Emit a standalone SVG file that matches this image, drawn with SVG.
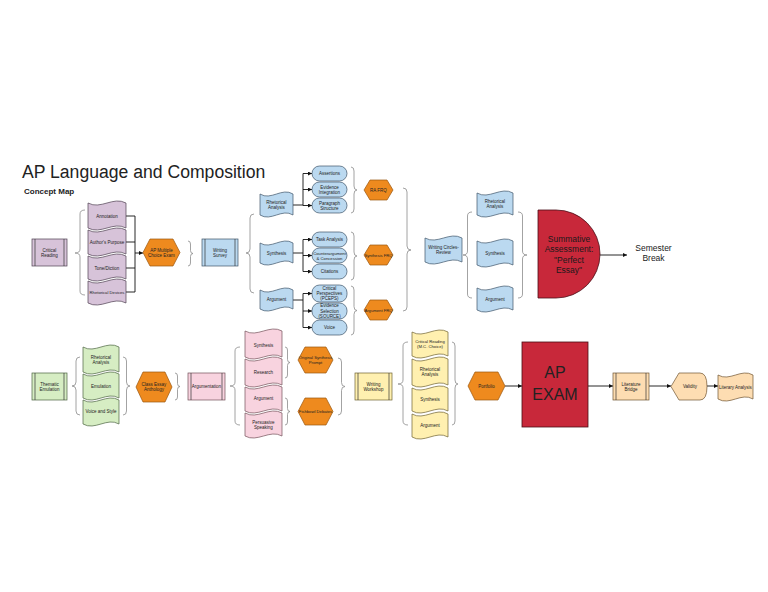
<svg xmlns="http://www.w3.org/2000/svg" width="768" height="592" viewBox="0 0 768 592">
<defs>
<marker id="ah" viewBox="0 0 10 10" refX="10" refY="5" markerWidth="4" markerHeight="4" markerUnits="userSpaceOnUse" orient="auto"><path d="M0,0 L10,5 L0,10 Z" fill="#111"/></marker>
<style>
.pur{fill:#D7C3D9;stroke:#4e3f50;stroke-width:0.7}
.blu{fill:#BBD9F0;stroke:#3f5568;stroke-width:0.7}
.org{fill:#EE8A1E;stroke:#9a560e;stroke-width:0.7}
.grn{fill:#D6EDC3;stroke:#4a6340;stroke-width:0.7}
.pnk{fill:#F8D3DF;stroke:#735059;stroke-width:0.7}
.yel{fill:#FFF0B0;stroke:#6e6230;stroke-width:0.7}
.pch{fill:#FDDDB2;stroke:#6e5330;stroke-width:0.7}
.red{fill:#C8283A;stroke:#4a0e16;stroke-width:0.8}
.ln{fill:none;stroke:#333;stroke-width:0.7}
.br{fill:none;stroke:#8c8c8c;stroke-width:0.8}
.cn{fill:none;stroke:#111;stroke-width:0.9}
.ar{fill:none;stroke:#111;stroke-width:0.9;marker-end:url(#ah)}
text{font-family:"Liberation Sans",Arial,sans-serif;fill:#222}
.t{font-size:4.5px;text-anchor:middle}
.s{font-size:4.2px;text-anchor:middle}
.m{font-size:8.5px;text-anchor:middle;fill:#1a1a1a}
</style>
</defs>
<rect width="768" height="592" fill="#fff"/>
<text x="22" y="178" font-size="17.6" fill="#111">AP Language and Composition</text>
<text x="24" y="194" font-size="8" font-weight="bold" fill="#111">Concept Map</text>

<g id="braces">
<path class="br" d="M85,210 Q80,210 80,214 L80,249 Q80,253 75,253 Q80,253 80,257 L80,291 Q80,295 85,295"/>
<path class="br" d="M188,241 Q190.5,241 190.5,244 L190.5,250.5 Q190.5,253.5 193,253.5 Q190.5,253.5 190.5,256.5 L190.5,263 Q190.5,266 188,266"/>
<path class="br" d="M254,214 Q250,214 250,218 L250,249 Q250,253 246,253 Q250,253 250,257 L250,289 Q250,293 254,293"/>
<path class="br" d="M351,167 Q354,167 354,171 L354,186 Q354,190 357,190 Q354,190 354,194 L354,209 Q354,213 351,213"/>
<path class="br" d="M351,232 Q354,232 354,236 L354,252 Q354,256 357,256 Q354,256 354,260 L354,276 Q354,280 351,280"/>
<path class="br" d="M351,286 Q354,286 354,290 L354,306.5 Q354,310.5 357,310.5 Q354,310.5 354,314.5 L354,331 Q354,335 351,335"/>
<path class="br" d="M403,188 Q407,188 407,192 L407,246 Q407,250 411,250 Q407,250 407,254 L407,307 Q407,311 403,311"/>
<path class="br" d="M472,212 Q467.5,212 467.5,216 L467.5,251 Q467.5,255 463,255 Q467.5,255 467.5,259 L467.5,294 Q467.5,298 472,298"/>
<path class="br" d="M518,212 Q522.5,212 522.5,216 L522.5,251 Q522.5,255 527,255 Q522.5,255 522.5,259 L522.5,294 Q522.5,298 518,298"/>
<path class="br" d="M80,357 Q76,357 76,361 L76,382 Q76,386 72,386 Q76,386 76,390 L76,411 Q76,415 80,415"/>
<path class="br" d="M123,357 Q126.5,357 126.5,361 L126.5,382 Q126.5,386 130,386 Q126.5,386 126.5,390 L126.5,411 Q126.5,415 123,415"/>
<path class="br" d="M175,373 Q177.5,373 177.5,376 L177.5,383.5 Q177.5,386.5 180,386.5 Q177.5,386.5 177.5,389.5 L177.5,397 Q177.5,400 175,400"/>
<path class="br" d="M240,347 Q235,347 235,351 L235,382 Q235,386 230,386 Q235,386 235,390 L235,421 Q235,425 240,425"/>
<path class="br" d="M285,347 Q287.5,347 287.5,350 L287.5,359.5 Q287.5,362.5 290,362.5 Q287.5,362.5 287.5,365.5 L287.5,375 Q287.5,378 285,378"/>
<path class="br" d="M285,398 Q287.5,398 287.5,401 L287.5,408.5 Q287.5,411.5 290,411.5 Q287.5,411.5 287.5,414.5 L287.5,422 Q287.5,425 285,425"/>
<path class="br" d="M338,358 Q341.5,358 341.5,362 L341.5,382.5 Q341.5,386.5 345,386.5 Q341.5,386.5 341.5,390.5 L341.5,411 Q341.5,415 338,415"/>
<path class="br" d="M408,342 Q403,342 403,346 L403,380 Q403,384 398,384 Q403,384 403,388 L403,421 Q403,425 408,425"/>
<path class="br" d="M452,342 Q455,342 455,346 L455,380 Q455,384 458,384 Q455,384 455,388 L455,421 Q455,425 452,425"/>
</g>

<g id="connectors">
<path class="cn" d="M126,216 H135 M126,242 H135 M126,268 H135 M126,292 H135 M135,216 V292"/>
<path class="ar" d="M135,253 H143"/>
<path class="cn" d="M293,205 H303 M303,173.5 V205.5"/>
<path class="ar" d="M303,173.5 H312"/><path class="ar" d="M303,189.5 H312"/><path class="ar" d="M303,205.5 H312"/>
<path class="cn" d="M293,253 H303 M303,239.5 V271.5"/>
<path class="ar" d="M303,239.5 H312"/><path class="ar" d="M303,255.5 H312"/><path class="ar" d="M303,271.5 H312"/>
<path class="cn" d="M293,300 H303 M303,293.5 V327.5"/>
<path class="ar" d="M303,293.5 H312"/><path class="ar" d="M303,311 H312"/><path class="ar" d="M303,327.5 H312"/>
<path class="ar" d="M600,255 H627"/>
<path class="ar" d="M505,386 H522"/>
<path class="ar" d="M588,386 H613"/>
<path class="ar" d="M649,386 H671"/>
<path class="ar" d="M707,386 H718"/>
</g>

<!-- Row 1 -->
<g id="critical-reading"><rect class="pur" x="32" y="239" width="35" height="27"/><path class="ln" d="M35,239 V266 M64,239 V266"/><text class="t" x="49.5" y="251.5">Critical</text><text class="t" x="49.5" y="256.7">Reading</text></g>
<g id="annotation"><path class="pur" d="M88,203 C100.7,210 113.3,196 126,203 L126,228 C113.3,221 100.7,235 88,228 Z"/><text class="t" x="107" y="217.6">Annotation</text></g>
<g id="authors-purpose"><path class="pur" d="M88,230 C100.7,237 113.3,223 126,230 L126,254 C113.3,247 100.7,261 88,254 Z"/><text class="t" x="107" y="243.6">Author's Purpose</text></g>
<g id="tone-diction"><path class="pur" d="M88,256 C100.7,263 113.3,249 126,256 L126,279 C113.3,272 100.7,286 88,279 Z"/><text class="t" x="107" y="269.6">Tone/Diction</text></g>
<g id="rhetorical-devices"><path class="pur" d="M88,281 C100.7,288 113.3,274 126,281 L126,303 C113.3,296 100.7,310 88,303 Z"/><text class="s" x="107" y="293.6">Rhetorical Devices</text></g>
<g id="ap-mc-exam"><polygon class="org" points="150,239 173,239 180,252.5 173,266 150,266 143,252.5"/><text class="t" x="161.5" y="251.5">AP Multiple</text><text class="t" x="161.5" y="256.7">Choice Exam</text></g>
<g id="writing-survey"><rect class="blu" x="202" y="239" width="36" height="27"/><path class="ln" d="M205,239 V266 M235,239 V266"/><text class="t" x="220" y="251.5">Writing</text><text class="t" x="220" y="256.7">Survey</text></g>

<g id="rhetorical-analysis-1"><path class="blu" d="M260,194 C271,201 282,187 293,194 L293,215 C282,208 271,222 260,215 Z"/><text class="t" x="276.5" y="203.5">Rhetorical</text><text class="t" x="276.5" y="208.7">Analysis</text></g>
<g id="synthesis-1"><path class="blu" d="M260,243 C271,250 282,236 293,243 L293,263 C282,256 271,270 260,263 Z"/><text class="t" x="276.5" y="254.6">Synthesis</text></g>
<g id="argument-1"><path class="blu" d="M260,290 C271,297 282,283 293,290 L293,309 C282,302 271,316 260,309 Z"/><text class="t" x="276.5" y="301.1">Argument</text></g>

<g id="assertions"><rect class="blu" x="312" y="166" width="35" height="15" rx="7.5"/><text class="t" x="329.5" y="175.1">Assertions</text></g>
<g id="evidence-integration"><rect class="blu" x="312" y="182" width="35" height="15" rx="7.5"/><text class="t" x="329.5" y="188.5">Evidence</text><text class="t" x="329.5" y="193.7">Integration</text></g>
<g id="paragraph-structure"><rect class="blu" x="312" y="198" width="35" height="15" rx="7.5"/><text class="t" x="329.5" y="204.5">Paragraph</text><text class="t" x="329.5" y="209.7">Structure</text></g>
<g id="task-analysis"><rect class="blu" x="312" y="232" width="35" height="15" rx="7.5"/><text class="t" x="329.5" y="241.1">Task Analysis</text></g>
<g id="counterargument"><rect class="blu" x="312" y="248" width="35" height="15" rx="7.5"/><text class="s" x="329.5" y="254.5">Counterargument</text><text class="s" x="329.5" y="259.7">&amp; Concession</text></g>
<g id="citations"><rect class="blu" x="312" y="264" width="35" height="15" rx="7.5"/><text class="t" x="329.5" y="273.1">Citations</text></g>
<g id="critical-perspectives"><rect class="blu" x="312" y="285" width="35" height="17" rx="7.5"/><text class="t" x="329.5" y="289.9">Critical</text><text class="t" x="329.5" y="295.1">Perspectives</text><text class="t" x="329.5" y="300.3">(PCEPS)</text></g>
<g id="evidence-selection"><rect class="blu" x="312" y="303" width="35" height="16" rx="7.5"/><text class="t" x="329.5" y="307.4">Evidence</text><text class="t" x="329.5" y="312.6">Selection</text><text class="t" x="329.5" y="317.8">(SOURCE)</text></g>
<g id="voice"><rect class="blu" x="312" y="320" width="35" height="15" rx="7.5"/><text class="t" x="329.5" y="329.1">Voice</text></g>

<g id="ra-frq"><polygon class="org" points="370,180 387,180 393,190 387,200 370,200 364,190"/><text class="t" x="378.5" y="191.6">RA FRQ</text></g>
<g id="synthesis-frq"><polygon class="org" points="370,245 387,245 393,255 387,265 370,265 364,255"/><text class="s" x="378.5" y="256.6">Synthesis FRQ</text></g>
<g id="argument-frq"><polygon class="org" points="370,300 387,300 393,310 387,320 370,320 364,310"/><text class="s" x="378.5" y="311.6">Argument FRQ</text></g>

<g id="writing-circles"><path class="blu" d="M425,238 C437.3,245 449.7,231 462,238 L462,262 C449.7,255 437.3,269 425,262 Z"/><text class="t" x="443.5" y="249">Writing Circles-</text><text class="t" x="443.5" y="254.2">Review</text></g>
<g id="rhetorical-analysis-2"><path class="blu" d="M477,193 C489,200 501,186 513,193 L513,215 C501,208 489,222 477,215 Z"/><text class="t" x="495" y="203">Rhetorical</text><text class="t" x="495" y="208.2">Analysis</text></g>
<g id="synthesis-2"><path class="blu" d="M477,241 C489,248 501,234 513,241 L513,265 C501,258 489,272 477,265 Z"/><text class="t" x="495" y="254.6">Synthesis</text></g>
<g id="argument-2"><path class="blu" d="M477,288 C489,295 501,281 513,288 L513,310 C501,303 489,317 477,310 Z"/><text class="t" x="495" y="300.6">Argument</text></g>

<g id="summative"><path class="red" d="M538,210 L556,210 A44,44 0 0 1 556,298 L538,298 Z"/><text class="m" x="569" y="241.5">Summative</text><text class="m" x="569" y="252">Assessment:</text><text class="m" x="569" y="262.5">"Perfect</text><text class="m" x="569" y="273">Essay"</text></g>
<g id="semester-break"><text class="m" x="653.5" y="251">Semester</text><text class="m" x="653.5" y="261">Break</text></g>

<!-- Row 2 -->
<g id="thematic-emulation"><rect class="grn" x="32" y="373" width="35" height="27"/><path class="ln" d="M35,373 V400 M64,373 V400"/><text class="t" x="49.5" y="385.5">Thematic</text><text class="t" x="49.5" y="390.7">Emulation</text></g>
<g id="rhetorical-analysis-g"><path class="grn" d="M83,347 C95,354 107,340 119,347 L119,372 C107,365 95,379 83,372 Z"/><text class="t" x="101" y="359">Rhetorical</text><text class="t" x="101" y="364.2">Analysis</text></g>
<g id="emulation"><path class="grn" d="M83,374 C95,381 107,367 119,374 L119,398 C107,391 95,405 83,398 Z"/><text class="t" x="101" y="387.6">Emulation</text></g>
<g id="voice-style"><path class="grn" d="M83,400 C95,407 107,393 119,400 L119,424 C107,417 95,431 83,424 Z"/><text class="t" x="101" y="412.6">Voice and Style</text></g>
<g id="class-essay"><polygon class="org" points="143,372 165,372 172,387 165,402 143,402 136,387"/><text class="t" x="154" y="386">Class Essay</text><text class="t" x="154" y="391.2">Anthology</text></g>

<g id="argumentation"><rect class="pnk" x="188" y="373" width="37" height="27"/><path class="ln" d="M191,373 V400 M222,373 V400"/><text class="t" x="206.5" y="388.1">Argumentation</text></g>
<g id="synthesis-p"><path class="pnk" d="M245,331 C257.3,338 269.7,324 282,331 L282,357 C269.7,350 257.3,364 245,357 Z"/><text class="t" x="263.5" y="346.6">Synthesis</text></g>
<g id="research"><path class="pnk" d="M245,359 C257.3,366 269.7,352 282,359 L282,385 C269.7,378 257.3,392 245,385 Z"/><text class="t" x="263.5" y="373.6">Research</text></g>
<g id="argument-p"><path class="pnk" d="M245,387 C257.3,394 269.7,380 282,387 L282,411 C269.7,404 257.3,418 245,411 Z"/><text class="t" x="263.5" y="399.6">Argument</text></g>
<g id="persuasive"><path class="pnk" d="M245,413 C257.3,420 269.7,406 282,413 L282,436 C269.7,429 257.3,443 245,436 Z"/><text class="t" x="263.5" y="424">Persuasive</text><text class="t" x="263.5" y="429.2">Speaking</text></g>
<g id="original-synthesis"><polygon class="org" points="305,347 326,347 333,360 326,373 305,373 298,360"/><text class="s" x="315.5" y="359">Original Synthesis</text><text class="s" x="315.5" y="364.2">Prompt</text></g>
<g id="fishbowl"><polygon class="org" points="305,398 326,398 333,411.5 326,425 305,425 298,411.5"/><text class="s" x="315.5" y="413.1">Fishbowl Debates</text></g>

<g id="writing-workshop"><rect class="yel" x="355" y="373" width="37" height="27"/><path class="ln" d="M358,373 V400 M389,373 V400"/><text class="t" x="373.5" y="385.5">Writing</text><text class="t" x="373.5" y="390.7">Workshop</text></g>
<g id="critical-reading-mc"><path class="yel" d="M412,332 C424,339 436,325 448,332 L448,356 C436,349 424,363 412,356 Z"/><text class="s" x="430" y="343">Critical Reading</text><text class="s" x="430" y="348.2">(M.C. Choice)</text></g>
<g id="rhetorical-analysis-y"><path class="yel" d="M412,359 C424,366 436,352 448,359 L448,385 C436,378 424,392 412,385 Z"/><text class="t" x="430" y="371">Rhetorical</text><text class="t" x="430" y="376.2">Analysis</text></g>
<g id="synthesis-y"><path class="yel" d="M412,388 C424,395 436,381 448,388 L448,411 C436,404 424,418 412,411 Z"/><text class="t" x="430" y="400.6">Synthesis</text></g>
<g id="argument-y"><path class="yel" d="M412,414 C424,421 436,407 448,414 L448,437 C436,430 424,444 412,437 Z"/><text class="t" x="430" y="426.6">Argument</text></g>
<g id="portfolio"><polygon class="org" points="475,372 498,372 505,386 498,400 475,400 468,386"/><text class="t" x="486.5" y="387.6">Portfolio</text></g>

<g id="ap-exam"><rect class="red" x="522" y="342" width="66" height="85"/><text x="555" y="378" font-size="16" text-anchor="middle" fill="#1a1a1a">AP</text><text x="555" y="400" font-size="16" text-anchor="middle" fill="#1a1a1a">EXAM</text></g>
<g id="literature-bridge"><rect class="pch" x="613" y="373" width="36" height="27"/><path class="ln" d="M616,373 V400 M646,373 V400"/><text class="t" x="631" y="385.5">Literature</text><text class="t" x="631" y="390.7">Bridge</text></g>
<g id="validity"><path class="pch" d="M671,386.5 L679,373 L700,373 Q707,373 707,386.5 Q707,400 700,400 L679,400 Z"/><text class="t" x="690" y="388.1">Validity</text></g>
<g id="literary-analysis"><path class="pch" d="M718,375 C729.7,382 741.3,368 753,375 L753,399 C741.3,392 729.7,406 718,399 Z"/><text class="t" x="735.5" y="388.6">Literary Analysis</text></g>
</svg>
